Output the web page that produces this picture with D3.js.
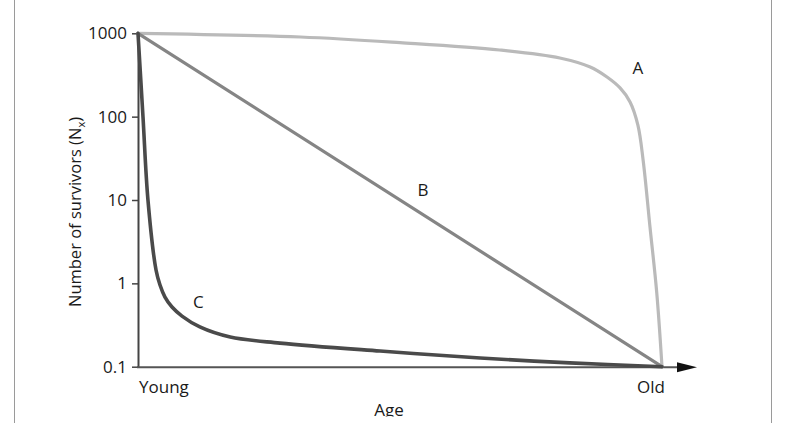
<!DOCTYPE html>
<html>
  <head>
    <meta charset="UTF-8">
    <title>Survivorship curves</title>
    <style>
      body { margin: 0; background: #fff; }
      svg { display: block; font-family: "Open Sans", sans-serif; }
    </style>
  </head>
  <body>
    <svg></svg>
    <script src="https://d3js.org/d3.v7.min.js"></script>
    <script>

/* DATA (age as % of max life span, survivors on a log scale) */
var ageA  = [0, 31, 50, 69, 80.5, 86.3, 89.5, 92, 93.9, 95.4, 96.4, 97.7, 99, 100];
var survA = [1000, 903, 773, 631, 506, 394, 299, 221, 150, 79, 30, 4.8, 0.77, 0.1];

var ageB  = [0, 100];
var survB = [1000, 0.1];

var ageC  = [0, 0.95, 1.9, 3.44, 4.2, 5.15, 6.49, 8.4, 11.8, 17.6, 27.1, 46.2, 65.3, 82.4, 100];
var survC = [1000, 100, 10, 1.445, 0.955, 0.685, 0.52, 0.405, 0.3, 0.227, 0.192, 0.154, 0.127, 0.111, 0.1];

var yTicks = [0.1, 1, 10, 100, 1000];
var xLabels = ["Young", "Old"];
var curveNames = ["A", "B", "C"];

var config = {
  "width": 806,
  "height": 423,
  "x0": 138, "x1": 662,
  "y0": 366.7, "y1": 33.3,
  "font": 17
};

var svg = d3.select("svg")
  .attr("width", config.width)
  .attr("height", config.height);

// frame lines left and right
svg.append("line").attr("x1", 14.5).attr("x2", 14.5).attr("y1", 0).attr("y2", 423)
  .attr("stroke", "#9a9a9a").attr("stroke-width", 1);
svg.append("line").attr("x1", 771.5).attr("x2", 771.5).attr("y1", 0).attr("y2", 423)
  .attr("stroke", "#9a9a9a").attr("stroke-width", 1);

var x = d3.scaleLinear().domain([0, 100]).range([config.x0, config.x1]);
var y = d3.scaleLog().domain([0.1, 1000]).range([config.y0, config.y1]);

// y axis
var yAxis = svg.append("g")
  .attr("transform", "translate(" + config.x0 + ",0)")
  .call(d3.axisLeft(y)
    .tickValues(yTicks)
    .tickSize(6)
    .tickSizeOuter(0)
    .tickPadding(5)
    .tickFormat(function(d) { return d < 1 ? "0.1" : d3.format("d")(d); }));

yAxis.select(".domain").attr("stroke", "#444").attr("stroke-width", 2);
yAxis.selectAll(".tick line").attr("stroke", "#444").attr("stroke-width", 1.5);
yAxis.selectAll(".tick text")
  .attr("font-size", config.font)
  .attr("font-family", "Open Sans, sans-serif")
  .attr("fill", "#1a1a1a");

// x axis with arrow
svg.append("line")
  .attr("x1", config.x0 - 1).attr("x2", 680)
  .attr("y1", y(0.1) + 0.5).attr("y2", y(0.1) + 0.5)
  .attr("stroke", "#555").attr("stroke-width", 2);
svg.append("path")
  .attr("d", "M677," + (y(0.1) - 4.5) + "L697," + (y(0.1) + 0.5) + "L677," + (y(0.1) + 5.5) + "Z")
  .attr("fill", "#111");

svg.append("text")
  .attr("x", x(0) + 1).attr("y", 393)
  .attr("font-size", config.font).attr("fill", "#1a1a1a")
  .text(xLabels[0]);
svg.append("text")
  .attr("x", x(100) + 3).attr("y", 393)
  .attr("text-anchor", "end")
  .attr("font-size", config.font).attr("fill", "#1a1a1a")
  .text(xLabels[1]);

// "Age" title, clipped at the bottom like the original
svg.append("clipPath").attr("id", "ageclip")
  .append("rect").attr("x", 0).attr("y", 0).attr("width", 806).attr("height", 416.5);
svg.append("text")
  .attr("x", 389).attr("y", 416)
  .attr("text-anchor", "middle")
  .attr("font-size", config.font).attr("fill", "#1a1a1a")
  .attr("clip-path", "url(#ageclip)")
  .text("Age");

// y title
var yTitle = svg.append("text")
  .attr("transform", "translate(81,212) rotate(-90)")
  .attr("text-anchor", "middle")
  .attr("font-size", 16.5).attr("fill", "#1a1a1a");
yTitle.append("tspan").text("Number of survivors (N");
yTitle.append("tspan").attr("font-size", 11).attr("dy", 4).text("x");
yTitle.append("tspan").attr("dy", -4).text(")");

// curves
var line = d3.line()
  .x(function(d) { return x(d[0]); })
  .y(function(d) { return y(d[1]); })
  .curve(d3.curveCatmullRom.alpha(0.5));

var series = [
  { name: curveNames[0], data: d3.zip(ageA, survA), color: "#bababa", width: 3.2 },
  { name: curveNames[1], data: d3.zip(ageB, survB), color: "#858585", width: 3.2 },
  { name: curveNames[2], data: d3.zip(ageC, survC), color: "#4a4a4a", width: 3.6 }
];

svg.append("g")
  .selectAll("path")
  .data(series)
  .enter().append("path")
    .attr("d", function(d) { return line(d.data); })
    .attr("fill", "none")
    .attr("stroke", function(d) { return d.color; })
    .attr("stroke-width", function(d) { return d.width; })
    .attr("stroke-linecap", "round")
    .attr("stroke-linejoin", "round");

// curve labels
var labelPos = [[95.4, 320], [54.4, 11], [11.5, 0.5]];
svg.append("g")
  .selectAll("text")
  .data(series)
  .enter().append("text")
    .attr("x", function(d, i) { return x(labelPos[i][0]); })
    .attr("y", function(d, i) { return y(labelPos[i][1]); })
    .attr("dy", "-0.05em")
    .attr("text-anchor", "middle")
    .attr("font-size", 17).attr("fill", "#1a1a1a")
    .text(function(d) { return d.name; });

    </script>
  </body>
</html>
